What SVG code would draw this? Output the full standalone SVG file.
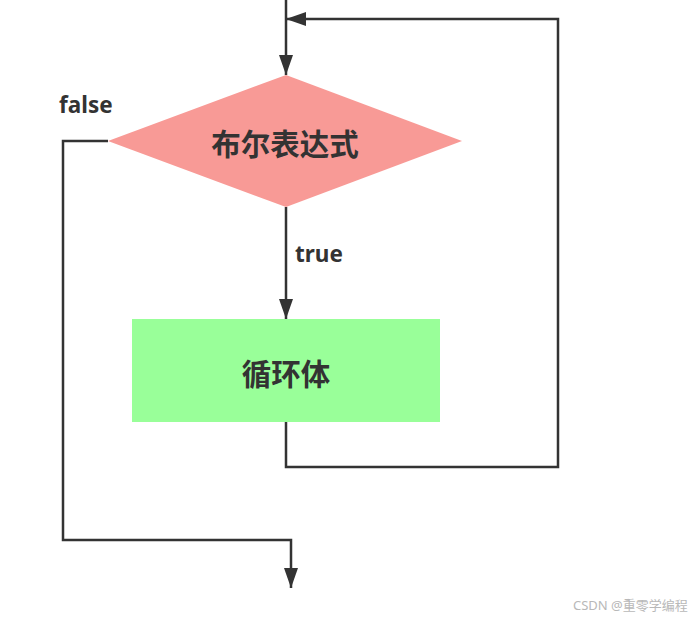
<svg xmlns="http://www.w3.org/2000/svg" width="694" height="621" viewBox="0 0 694 621">
<style>
.ln{fill:none;stroke:#333;stroke-width:2.5}
.lbl{font-family:"Noto Sans","Noto Sans CJK SC",sans-serif;font-weight:bold;fill:#333;font-size:22.5px}
.nt{font-family:"Noto Sans CJK SC",sans-serif;font-weight:bold;fill:#333;font-size:29.5px;text-anchor:middle;dominant-baseline:central}
.wm{font-family:"Noto Sans","Noto Sans CJK SC",sans-serif;fill:#b8b8b8;font-size:13px}
</style>
<defs>
<marker id="ah" viewBox="0 0 20 14" refX="20" refY="7" markerWidth="20" markerHeight="14" markerUnits="userSpaceOnUse" orient="auto">
<path d="M0,0 L20,7 L0,14 Z" fill="#333"/>
</marker>
</defs>
<rect width="694" height="621" fill="#fff"/>
<g id="connectors">
<path class="ln" d="M286,0 V75" marker-end="url(#ah)"/>
<path class="ln" d="M286,422 V467 H558 V19 H286" marker-end="url(#ah)"/>
<path class="ln" d="M286,207 V319" marker-end="url(#ah)"/>
<path class="ln" d="M108,141 H63 V540 H291 V588" marker-end="url(#ah)"/>
</g>
<g id="label-false"><text class="lbl" x="59" y="113">false</text></g>
<g id="label-true"><text class="lbl" x="295" y="262">true</text></g>
<g id="node-condition">
<polygon points="286,75 462,141 286,207 108,141" fill="#f89a96"/>
<text class="nt" x="285" y="142">布尔表达式</text>
</g>
<g id="node-body">
<rect x="132" y="319" width="308" height="103" fill="#99ff99"/>
<text class="nt" x="286" y="372">循环体</text>
</g>
<text class="wm" x="573" y="610">CSDN @重零学编程</text>
</svg>
